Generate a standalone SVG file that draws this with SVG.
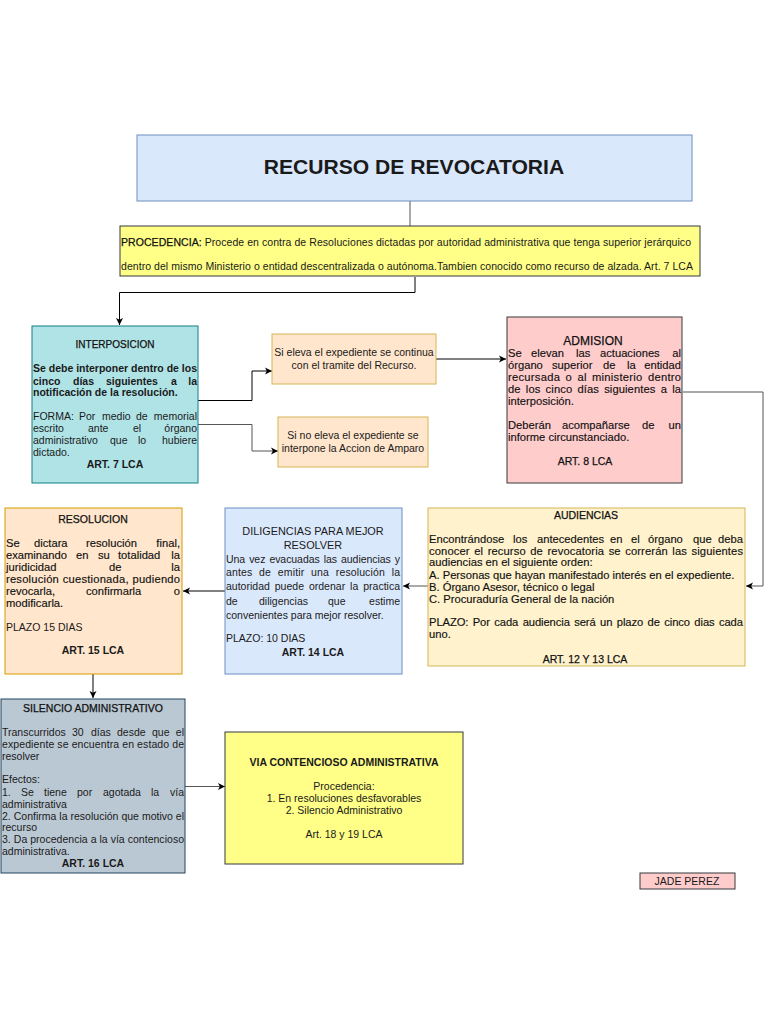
<svg xmlns="http://www.w3.org/2000/svg" width="768" height="1024" viewBox="0 0 768 1024">
<style>
text{font-family:"Liberation Sans",Arial,sans-serif;font-size:10.5px;fill:#1a1a1a}
.b{font-weight:bold}
.c{text-anchor:middle}
.e{text-anchor:end}
.d{font-size:11.2px;fill:#111;stroke:#111;stroke-width:.15px}
.h{fill:#111;stroke:#111;stroke-width:.25px}
.l{fill:none;stroke:#000;stroke-width:1}
.g{fill:none;stroke:#555;stroke-width:1}
</style>
<defs><marker id="a" markerUnits="userSpaceOnUse" markerWidth="8" markerHeight="8" refX="7" refY="4" orient="auto"><path d="M0,0.500 L7,4 L0,7.500 L1.800,4 Z" fill="#000"/></marker></defs>
<rect width="768" height="1024" fill="#fff"/>
<g id="connectors">
<path class="g" d="M410,201V226"/>
<path class="l" d="M415,277V292.500H119.500V325" marker-end="url(#a)"/>
<path class="l" d="M198,400.500H252V371H272" marker-end="url(#a)"/>
<path class="g" d="M198,424.500H252V451H278" marker-end="url(#a)"/>
<path class="l" d="M436,359H506" marker-end="url(#a)"/>
<path class="g" d="M683,392H763V586H746" marker-end="url(#a)"/>
<path class="g" d="M428,586H403" marker-end="url(#a)"/>
<path class="l" d="M225,591H183" marker-end="url(#a)"/>
<path class="l" d="M93,674V698" marker-end="url(#a)"/>
<path class="g" d="M185,786.500H225" marker-end="url(#a)"/>
</g>
<g id="titulo"><rect x="137" y="135" width="555" height="66" fill="#dae8fc" stroke="#6c8ebf"/>
<text class="b c" x="414" y="174" style="font-size:21.100px">RECURSO DE REVOCATORIA</text></g>
<g id="procedencia"><rect x="120" y="226" width="580" height="50" fill="#ffff88" stroke="#36393d"/>
<text x="121" y="246" textLength="570"><tspan class="h">PROCEDENCIA:</tspan> Procede en contra de Resoluciones dictadas por autoridad administrativa que tenga superior jerárquico</text>
<text x="121" y="270" textLength="572">dentro del mismo Ministerio o entidad descentralizada o autónoma.Tambien conocido como recurso de alzada. Art. 7 LCA</text></g>
<g id="interposicion"><rect x="32" y="326" width="166" height="157" fill="#b0e3e6" stroke="#0e8088"/>
<text class="c h" x="115" y="348" style="font-size:10px">INTERPOSICION</text>
<text class="b" x="33" y="372" textLength="164">Se debe interponer dentro de los</text>
<text class="b" x="33" y="385"><tspan x="33">cinco</tspan> <tspan x="73">días</tspan> <tspan x="106">siguientes</tspan> <tspan x="171">a</tspan> <tspan x="197" class="e">la</tspan></text>
<text class="b" x="33" y="396">notificación de la resolución.</text>
<text x="33" y="420"><tspan x="33">FORMA:</tspan> <tspan x="79">Por</tspan> <tspan x="102">medio</tspan> <tspan x="136">de</tspan> <tspan x="197" class="e">memorial</tspan></text>
<text x="33" y="432"><tspan x="33">escrito</tspan> <tspan x="88">ante</tspan> <tspan x="133">el</tspan> <tspan x="197" class="e">órgano</tspan></text>
<text x="33" y="444"><tspan x="33">administrativo</tspan> <tspan x="110">que</tspan> <tspan x="138">lo</tspan> <tspan x="197" class="e">hubiere</tspan></text>
<text x="33" y="456">dictado.</text>
<text class="b c" x="115" y="468">ART. 7 LCA</text></g>
<g id="si-eleva"><rect x="272" y="334" width="164" height="50" fill="#ffe6cc" stroke="#d6b656"/>
<text class="c" x="354" y="356">Si eleva el expediente se continua</text>
<text class="c" x="354" y="369">con el tramite del Recurso.</text></g>
<g id="si-no-eleva"><rect x="278" y="417" width="150" height="50" fill="#ffe6cc" stroke="#d6b656"/>
<text class="c" x="353" y="439">Si no eleva el expediente se</text>
<text class="c" x="353" y="452">interpone la Accion de Amparo</text></g>
<g id="admision"><rect x="507" y="317" width="175" height="166" fill="#ffcccc" stroke="#36393d"/>
<text class="c h" x="593" y="345" style="font-size:12px">ADMISION</text>
<text class="d" x="508" y="357"><tspan x="508">Se</tspan> <tspan x="531">elevan</tspan> <tspan x="576">las</tspan> <tspan x="600">actuaciones</tspan> <tspan x="681" class="e">al</tspan></text>
<text class="d" x="508" y="369"><tspan x="508">órgano</tspan> <tspan x="552">superior</tspan> <tspan x="603">de</tspan> <tspan x="627">la</tspan> <tspan x="681" class="e">entidad</tspan></text>
<text class="d" x="508" y="381" textLength="173" style="word-spacing:2px">recursada o al ministerio dentro</text>
<text class="d" x="508" y="393" textLength="173" style="word-spacing:2px">de los cinco días siguientes a la</text>
<text class="d" x="508" y="405">interposición.</text>
<text class="d" x="508" y="429"><tspan x="508">Deberán</tspan> <tspan x="562">acompañarse</tspan> <tspan x="642">de</tspan> <tspan x="681" class="e">un</tspan></text>
<text class="d" x="508" y="441">informe circunstanciado.</text>
<text class="c h" x="585" y="465">ART. 8 LCA</text></g>
<g id="audiencias"><rect x="428" y="508" width="317" height="158" fill="#fff2cc" stroke="#d6b656"/>
<text class="c h" x="586" y="519">AUDIENCIAS</text>
<text class="d" x="429" y="543"><tspan x="429">Encontrándose</tspan> <tspan x="513">los</tspan> <tspan x="537">antecedentes</tspan> <tspan x="610">en</tspan> <tspan x="631">el</tspan> <tspan x="648">órgano</tspan> <tspan x="693">que</tspan> <tspan x="743" class="e">deba</tspan></text>
<text class="d" x="429" y="555" textLength="314" style="word-spacing:1.300px">conocer el recurso de revocatoria se correrán las siguientes</text>
<text class="d" x="429" y="566">audiencias en el siguiente orden:</text>
<text class="d" x="429" y="579">A. Personas que hayan manifestado interés en el expediente.</text>
<text class="d" x="429" y="591">B. Órgano Asesor, técnico o legal</text>
<text class="d" x="429" y="603">C. Procuraduría General de la nación</text>
<text class="d" x="429" y="626" textLength="314" style="word-spacing:1.400px">PLAZO: Por cada audiencia será un plazo de cinco dias cada</text>
<text class="d" x="429" y="638">uno.</text>
<text class="c h" x="585" y="663">ART. 12 Y 13 LCA</text></g>
<g id="diligencias"><rect x="225" y="508" width="177" height="166" fill="#dae8fc" stroke="#6c8ebf"/>
<text class="c" x="313" y="535" style="font-size:10.900px">DILIGENCIAS PARA MEJOR</text>
<text class="c" x="313" y="549" style="font-size:10.900px">RESOLVER</text>
<text x="226" y="563" textLength="174" style="word-spacing:1.200px">Una vez evacuadas las audiencias y</text>
<text x="226" y="576" textLength="174" style="word-spacing:3.800px">antes de emitir una resolución la</text>
<text x="226" y="590" textLength="174" style="word-spacing:2px">autoridad puede ordenar la practica</text>
<text x="226" y="605"><tspan x="226">de</tspan> <tspan x="259">diligencias</tspan> <tspan x="328">que</tspan> <tspan x="400" class="e">estime</tspan></text>
<text x="226" y="619">convenientes para mejor resolver.</text>
<text x="226" y="642">PLAZO: 10 DIAS</text>
<text class="b c" x="313" y="656">ART. 14 LCA</text></g>
<g id="resolucion"><rect x="5" y="508" width="177" height="166" fill="#ffe6cc" stroke="#d79b00"/>
<text class="c h" x="93" y="523">RESOLUCION</text>
<text class="d" x="6" y="547"><tspan x="6">Se</tspan> <tspan x="34">dictara</tspan> <tspan x="86">resolución</tspan> <tspan x="180" class="e">final,</tspan></text>
<text class="d" x="6" y="559"><tspan x="6">examinando</tspan> <tspan x="76">en</tspan> <tspan x="98">su</tspan> <tspan x="118">totalidad</tspan> <tspan x="180" class="e">la</tspan></text>
<text class="d" x="6" y="571"><tspan x="6">juridicidad</tspan> <tspan x="109">de</tspan> <tspan x="180" class="e">la</tspan></text>
<text class="d" x="6" y="583" textLength="174" style="word-spacing:.500px">resolución cuestionada, pudiendo</text>
<text class="d" x="6" y="595"><tspan x="6">revocarla,</tspan> <tspan x="86">confirmarla</tspan> <tspan x="180" class="e">o</tspan></text>
<text class="d" x="6" y="607">modificarla.</text>
<text x="6" y="631">PLAZO 15 DIAS</text>
<text class="b c" x="93" y="654">ART. 15 LCA</text></g>
<g id="silencio"><rect x="1" y="699" width="184" height="174" fill="#bac8d3" stroke="#23445d"/>
<text class="c h" x="93" y="712">SILENCIO ADMINISTRATIVO</text>
<text x="2" y="736"><tspan x="2">Transcurridos</tspan> <tspan x="72">30</tspan> <tspan x="91">días</tspan> <tspan x="117">desde</tspan> <tspan x="152">que</tspan> <tspan x="184" class="e">el</tspan></text>
<text x="2" y="748" textLength="182">expediente se encuentra en estado de</text>
<text x="2" y="760">resolver</text>
<text x="2" y="783">Efectos:</text>
<text x="2" y="796"><tspan x="2">1.</tspan> <tspan x="21">Se</tspan> <tspan x="44">tiene</tspan> <tspan x="77">por</tspan> <tspan x="103">agotada</tspan> <tspan x="151">la</tspan> <tspan x="184" class="e">vía</tspan></text>
<text x="2" y="808">administrativa</text>
<text x="2" y="820" textLength="182">2. Confirma la resolución que motivo el</text>
<text x="2" y="831">recurso</text>
<text x="2" y="843" textLength="182">3. Da procedencia a la vía contencioso</text>
<text x="2" y="855">administrativa.</text>
<text class="b c" x="93" y="867">ART. 16 LCA</text></g>
<g id="via"><rect x="225" y="732" width="238" height="132" fill="#ffff88" stroke="#36393d"/>
<text class="b c" x="344" y="766">VIA CONTENCIOSO ADMINISTRATIVA</text>
<text class="c" x="344" y="790">Procedencia:</text>
<text class="c" x="344" y="802">1. En resoluciones desfavorables</text>
<text class="c" x="344" y="814">2. Silencio Administrativo</text>
<text class="c" x="344" y="838">Art. 18 y 19 LCA</text></g>
<g id="autor"><rect x="640" y="873" width="95" height="16" fill="#ffcccc" stroke="#36393d"/>
<text class="c" x="687" y="885">JADE PEREZ</text></g>
</svg>
